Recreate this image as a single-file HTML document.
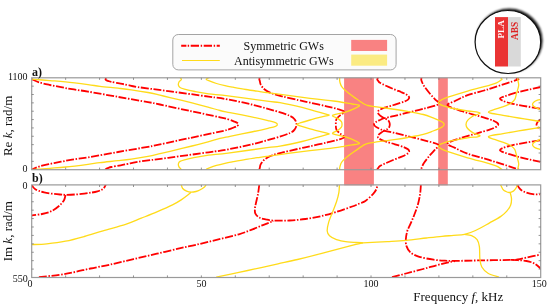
<!DOCTYPE html>
<html><head><meta charset="utf-8"><title>Dispersion curves</title>
<style>html,body{margin:0;padding:0;background:#fff}body{width:550px;height:308px;position:relative;overflow:hidden}</style></head>
<body>
<svg width="550" height="308" viewBox="0 0 550 308" style="position:absolute;left:0;top:0">
<defs><clipPath id="ca"><rect x="31.70" y="77.80" width="509.00" height="91.90"/></clipPath><clipPath id="cb"><rect x="31.70" y="184.90" width="509.00" height="92.60"/></clipPath>
<filter id="bl" x="-10%" y="-10%" width="120%" height="120%"><feGaussianBlur stdDeviation="0.9"/></filter></defs>
<rect x="344.1" y="77.80" width="29.8" height="107.50" fill="#f98282"/>
<rect x="438.2" y="77.80" width="9.6" height="107.50" fill="#f98282"/>
<g clip-path="url(#ca)" fill="none">
<g stroke="#ff0000" stroke-width="1.8" stroke-dasharray="8 1.6 1.5 1.6"><path d="M31.70 79.20 C32.92 79.72 35.95 81.33 39.00 82.30 C42.05 83.27 46.32 84.18 50.00 85.00 C53.68 85.82 57.42 86.50 61.10 87.20 C64.78 87.90 67.62 88.47 72.10 89.20 C76.58 89.93 80.35 90.32 88.00 91.60 C95.65 92.88 108.00 95.15 118.00 96.90 C128.00 98.65 141.00 100.83 148.00 102.10 C155.00 103.37 153.03 103.03 160.00 104.50 C166.97 105.97 179.80 108.77 189.80 110.90 C199.80 113.03 213.52 115.87 220.00 117.30 C226.48 118.73 226.28 118.77 228.70 119.50 C231.12 120.23 233.05 121.10 234.50 121.70 C235.95 122.30 236.77 122.64 237.40 123.10 C238.03 123.56 238.30 124.00 238.30 124.45 C238.30 124.90 238.03 125.34 237.40 125.80 C236.77 126.26 235.95 126.60 234.50 127.20 C233.05 127.80 231.12 128.67 228.70 129.40 C226.28 130.13 226.48 130.17 220.00 131.60 C213.52 133.03 199.80 135.87 189.80 138.00 C179.80 140.13 166.97 142.93 160.00 144.40 C153.03 145.87 155.00 145.53 148.00 146.80 C141.00 148.07 128.00 150.25 118.00 152.00 C108.00 153.75 95.65 156.02 88.00 157.30 C80.35 158.58 76.58 158.97 72.10 159.70 C67.62 160.43 64.78 161.00 61.10 161.70 C57.42 162.40 53.68 163.08 50.00 163.90 C46.32 164.72 42.05 165.63 39.00 166.60 C35.95 167.57 32.92 169.18 31.70 169.70"/><path d="M106.30 78.20 C106.17 78.37 105.50 78.87 105.50 79.20 C105.50 79.53 105.80 79.88 106.30 80.20 C106.80 80.52 107.67 80.82 108.50 81.10 C109.33 81.38 109.27 81.48 111.30 81.90 C113.33 82.32 117.92 83.07 120.70 83.60 C123.48 84.13 125.12 84.52 128.00 85.10 C130.88 85.68 131.28 86.10 138.00 87.10 C144.72 88.10 156.53 89.52 168.30 91.10 C180.07 92.68 198.65 95.20 208.60 96.60 C218.55 98.00 220.85 98.18 228.00 99.50 C235.15 100.82 243.68 102.62 251.50 104.50 C259.32 106.38 268.48 108.90 274.90 110.80 C281.32 112.70 286.68 114.43 290.00 115.90 C293.32 117.37 293.72 118.17 294.80 119.60 C295.88 121.02 296.50 122.83 296.50 124.45 C296.50 126.07 295.88 127.88 294.80 129.30 C293.72 130.73 293.32 131.53 290.00 133.00 C286.68 134.47 281.32 136.20 274.90 138.10 C268.48 140.00 259.32 142.52 251.50 144.40 C243.68 146.28 235.15 148.08 228.00 149.40 C220.85 150.72 218.55 150.90 208.60 152.30 C198.65 153.70 180.07 156.22 168.30 157.80 C156.53 159.38 144.72 160.80 138.00 161.80 C131.28 162.80 130.88 163.22 128.00 163.80 C125.12 164.38 123.48 164.77 120.70 165.30 C117.92 165.83 113.33 166.58 111.30 167.00 C109.27 167.42 109.33 167.52 108.50 167.80 C107.67 168.08 106.80 168.38 106.30 168.70 C105.80 169.02 105.50 169.37 105.50 169.70 C105.50 170.03 106.17 170.53 106.30 170.70"/><path d="M259.80 77.40 C259.72 77.70 259.30 78.60 259.30 79.20 C259.30 79.80 259.55 80.07 259.80 81.00 C260.05 81.93 259.98 83.38 260.80 84.80 C261.62 86.22 262.87 88.07 264.70 89.50 C266.53 90.93 268.80 92.23 271.80 93.40 C274.80 94.57 278.27 95.38 282.70 96.50 C287.13 97.62 293.85 99.08 298.40 100.10 C302.95 101.12 305.32 101.57 310.00 102.60 C314.68 103.63 321.90 105.23 326.50 106.30 C331.10 107.37 334.65 108.12 337.60 109.00 C340.55 109.88 343.83 110.50 344.20 111.60 C344.57 112.70 341.08 114.37 339.80 115.60 C338.52 116.83 337.17 117.53 336.50 119.00 C335.83 120.47 335.80 122.63 335.80 124.45 C335.80 126.27 335.83 128.43 336.50 129.90 C337.17 131.38 338.52 132.07 339.80 133.30 C341.08 134.53 344.57 136.20 344.20 137.30 C343.83 138.40 340.55 139.02 337.60 139.90 C334.65 140.78 331.10 141.53 326.50 142.60 C321.90 143.67 314.68 145.27 310.00 146.30 C305.32 147.33 302.95 147.78 298.40 148.80 C293.85 149.82 287.13 151.28 282.70 152.40 C278.27 153.52 274.80 154.33 271.80 155.50 C268.80 156.67 266.53 157.97 264.70 159.40 C262.87 160.83 261.62 162.68 260.80 164.10 C259.98 165.52 260.05 166.97 259.80 167.90 C259.55 168.83 259.30 169.10 259.30 169.70 C259.30 170.30 259.72 171.20 259.80 171.50"/><path d="M378.30 77.40 C378.12 77.70 377.20 78.60 377.20 79.20 C377.20 79.80 377.83 80.40 378.30 81.00 C378.77 81.60 378.72 82.00 380.00 82.80 C381.28 83.60 383.62 84.70 386.00 85.80 C388.38 86.90 391.80 88.37 394.30 89.40 C396.80 90.43 399.15 91.25 401.00 92.00 C402.85 92.75 404.20 93.27 405.40 93.90 C406.60 94.53 407.57 95.17 408.20 95.80 C408.83 96.43 409.23 97.07 409.20 97.70 C409.17 98.33 408.82 98.95 408.00 99.60 C407.18 100.25 406.47 100.77 404.30 101.60 C402.13 102.43 397.95 103.68 395.00 104.60 C392.05 105.52 388.68 106.45 386.60 107.10 C384.52 107.75 383.80 107.93 382.50 108.50 C381.20 109.07 379.57 109.87 378.80 110.50 C378.03 111.13 377.87 111.63 377.90 112.30 C377.93 112.97 378.42 113.80 379.00 114.50 C379.58 115.20 380.53 115.88 381.40 116.50 C382.27 117.12 383.18 117.65 384.20 118.20 C385.22 118.75 386.67 119.20 387.50 119.80 C388.33 120.40 388.82 121.02 389.20 121.80 C389.58 122.58 389.80 123.57 389.80 124.45 C389.80 125.33 389.58 126.33 389.20 127.10 C388.82 127.88 388.33 128.50 387.50 129.10 C386.67 129.70 385.22 130.15 384.20 130.70 C383.18 131.25 382.27 131.78 381.40 132.40 C380.53 133.02 379.58 133.70 379.00 134.40 C378.42 135.10 377.93 135.93 377.90 136.60 C377.87 137.27 378.03 137.77 378.80 138.40 C379.57 139.03 381.20 139.83 382.50 140.40 C383.80 140.97 384.52 141.15 386.60 141.80 C388.68 142.45 392.05 143.38 395.00 144.30 C397.95 145.22 402.13 146.47 404.30 147.30 C406.47 148.13 407.18 148.65 408.00 149.30 C408.82 149.95 409.17 150.57 409.20 151.20 C409.23 151.83 408.83 152.47 408.20 153.10 C407.57 153.73 406.60 154.37 405.40 155.00 C404.20 155.63 402.85 156.15 401.00 156.90 C399.15 157.65 396.80 158.47 394.30 159.50 C391.80 160.53 388.38 162.00 386.00 163.10 C383.62 164.20 381.28 165.30 380.00 166.10 C378.72 166.90 378.77 167.30 378.30 167.90 C377.83 168.50 377.20 169.10 377.20 169.70 C377.20 170.30 378.12 171.20 378.30 171.50"/><path d="M422.00 76.40 C421.87 76.87 421.20 78.27 421.20 79.20 C421.20 80.13 421.52 80.85 422.00 82.00 C422.48 83.15 422.83 84.22 424.10 86.10 C425.37 87.98 427.77 91.08 429.60 93.30 C431.43 95.52 433.62 97.58 435.10 99.40 C436.58 101.22 440.47 102.63 438.50 104.20 C436.53 105.77 428.45 107.38 423.30 108.80 C418.15 110.22 412.55 111.47 407.60 112.70 C402.65 113.93 397.50 115.28 393.60 116.20 C389.70 117.12 386.47 117.57 384.20 118.20 C381.93 118.83 381.37 119.37 380.00 120.00 C378.63 120.63 377.00 121.26 376.00 122.00 C375.00 122.74 374.00 123.63 374.00 124.45 C374.00 125.27 375.00 126.16 376.00 126.90 C377.00 127.64 378.63 128.27 380.00 128.90 C381.37 129.53 381.93 130.07 384.20 130.70 C386.47 131.33 389.70 131.78 393.60 132.70 C397.50 133.62 402.65 134.97 407.60 136.20 C412.55 137.43 418.15 138.68 423.30 140.10 C428.45 141.52 436.53 143.13 438.50 144.70 C440.47 146.27 436.58 147.68 435.10 149.50 C433.62 151.32 431.43 153.38 429.60 155.60 C427.77 157.82 425.37 160.92 424.10 162.80 C422.83 164.68 422.48 165.75 422.00 166.90 C421.52 168.05 421.20 168.77 421.20 169.70 C421.20 170.63 421.87 172.03 422.00 172.50"/><path d="M516.00 78.20 C516.43 78.37 518.60 78.87 518.60 79.20 C518.60 79.53 518.02 79.50 516.00 80.20 C513.98 80.90 510.65 82.05 506.50 83.40 C502.35 84.75 494.83 87.12 491.10 88.30 C487.37 89.48 488.02 89.35 484.10 90.50 C480.18 91.65 472.45 93.45 467.60 95.20 C462.75 96.95 458.32 99.28 455.00 101.00 C451.68 102.72 446.53 103.80 447.70 105.50 C448.87 107.20 457.22 109.55 462.00 111.20 C466.78 112.85 471.80 114.05 476.40 115.40 C481.00 116.75 486.50 118.28 489.60 119.30 C492.70 120.32 493.70 120.88 495.00 121.50 C496.30 122.12 496.85 122.51 497.40 123.00 C497.95 123.49 498.30 123.97 498.30 124.45 C498.30 124.93 497.95 125.41 497.40 125.90 C496.85 126.39 496.30 126.78 495.00 127.40 C493.70 128.02 492.70 128.58 489.60 129.60 C486.50 130.62 481.00 132.15 476.40 133.50 C471.80 134.85 466.78 136.05 462.00 137.70 C457.22 139.35 448.87 141.70 447.70 143.40 C446.53 145.10 451.68 146.18 455.00 147.90 C458.32 149.62 462.75 151.95 467.60 153.70 C472.45 155.45 480.18 157.25 484.10 158.40 C488.02 159.55 487.37 159.42 491.10 160.60 C494.83 161.78 502.35 164.15 506.50 165.50 C510.65 166.85 513.98 168.00 516.00 168.70 C518.02 169.40 518.60 169.37 518.60 169.70 C518.60 170.03 516.43 170.53 516.00 170.70"/><path d="M540.70 87.00 C538.92 87.38 533.85 88.43 530.00 89.30 C526.15 90.17 521.27 91.22 517.60 92.20 C513.93 93.18 510.52 94.40 508.00 95.20 C505.48 96.00 503.85 96.43 502.50 97.00 C501.15 97.57 499.90 97.98 499.90 98.60 C499.90 99.22 500.65 99.90 502.50 100.70 C504.35 101.50 507.57 102.55 511.00 103.40 C514.43 104.25 518.15 104.92 523.10 105.80 C528.05 106.68 537.77 108.22 540.70 108.70"/><path d="M540.70 161.90 C538.92 161.52 533.85 160.47 530.00 159.60 C526.15 158.73 521.27 157.68 517.60 156.70 C513.93 155.72 510.52 154.50 508.00 153.70 C505.48 152.90 503.85 152.47 502.50 151.90 C501.15 151.33 499.90 150.92 499.90 150.30 C499.90 149.68 500.65 149.00 502.50 148.20 C504.35 147.40 507.57 146.35 511.00 145.50 C514.43 144.65 518.15 143.98 523.10 143.10 C528.05 142.22 537.77 140.68 540.70 140.20"/><path d="M540.70 119.20 C540.25 119.58 538.70 120.62 538.00 121.50 C537.30 122.38 536.50 123.47 536.50 124.45 C536.50 125.43 537.30 126.53 538.00 127.40 C538.70 128.28 540.25 129.32 540.70 129.70"/></g>
<g stroke="#ffdb1a" stroke-width="1.3"><path d="M31.70 79.20 C34.75 79.43 44.37 80.15 50.00 80.60 C55.63 81.05 59.17 81.23 65.50 81.90 C71.83 82.57 82.25 83.87 88.00 84.60 C93.75 85.33 95.00 85.70 100.00 86.30 C105.00 86.90 112.78 87.62 118.00 88.20 C123.22 88.78 126.30 89.08 131.30 89.80 C136.30 90.52 143.22 91.60 148.00 92.50 C152.78 93.40 156.33 94.35 160.00 95.20 C163.67 96.05 164.67 96.32 170.00 97.60 C175.33 98.88 185.67 101.32 192.00 102.90 C198.33 104.48 203.33 105.83 208.00 107.10 C212.67 108.37 216.33 109.58 220.00 110.50 C223.67 111.42 224.75 111.53 230.00 112.60 C235.25 113.67 245.17 115.57 251.50 116.90 C257.83 118.23 264.00 119.65 268.00 120.60 C272.00 121.55 273.90 121.96 275.50 122.60 C277.10 123.24 277.25 124.14 277.60 124.45"/><path d="M31.70 169.70 C34.75 169.47 44.37 168.75 50.00 168.30 C55.63 167.85 59.17 167.67 65.50 167.00 C71.83 166.33 82.25 165.03 88.00 164.30 C93.75 163.57 95.00 163.20 100.00 162.60 C105.00 162.00 112.78 161.28 118.00 160.70 C123.22 160.12 126.30 159.82 131.30 159.10 C136.30 158.38 143.22 157.30 148.00 156.40 C152.78 155.50 156.33 154.55 160.00 153.70 C163.67 152.85 164.67 152.58 170.00 151.30 C175.33 150.02 185.67 147.58 192.00 146.00 C198.33 144.42 203.33 143.07 208.00 141.80 C212.67 140.53 216.33 139.32 220.00 138.40 C223.67 137.48 224.75 137.37 230.00 136.30 C235.25 135.23 245.17 133.33 251.50 132.00 C257.83 130.67 264.00 129.25 268.00 128.30 C272.00 127.35 273.90 126.94 275.50 126.30 C277.10 125.66 277.25 124.76 277.60 124.45"/><path d="M179.00 76.40 C179.40 76.87 181.40 78.27 181.40 79.20 C181.40 80.13 179.50 81.02 179.00 82.00 C178.50 82.98 178.23 84.18 178.40 85.10 C178.57 86.02 179.00 86.83 180.00 87.50 C181.00 88.17 181.90 88.43 184.40 89.10 C186.90 89.77 190.97 90.72 195.00 91.50 C199.03 92.28 203.10 93.08 208.60 93.80 C214.10 94.52 218.25 94.57 228.00 95.80 C237.75 97.03 258.43 100.05 267.10 101.20 C275.77 102.35 274.18 101.67 280.00 102.70 C285.82 103.73 296.00 105.97 302.00 107.40 C308.00 108.83 311.43 110.02 316.00 111.30 C320.57 112.58 327.17 114.47 329.40 115.10"/><path d="M179.00 172.50 C179.40 172.03 181.40 170.63 181.40 169.70 C181.40 168.77 179.50 167.88 179.00 166.90 C178.50 165.92 178.23 164.72 178.40 163.80 C178.57 162.88 179.00 162.07 180.00 161.40 C181.00 160.73 181.90 160.47 184.40 159.80 C186.90 159.13 190.97 158.18 195.00 157.40 C199.03 156.62 203.10 155.82 208.60 155.10 C214.10 154.38 218.25 154.33 228.00 153.10 C237.75 151.87 258.43 148.85 267.10 147.70 C275.77 146.55 274.18 147.23 280.00 146.20 C285.82 145.17 296.00 142.93 302.00 141.50 C308.00 140.07 311.43 138.88 316.00 137.60 C320.57 136.32 327.17 134.43 329.40 133.80"/><path d="M329.40 115.10 C326.17 115.92 314.90 118.68 310.00 120.00 C305.10 121.32 302.25 122.26 300.00 123.00 C297.75 123.74 297.08 124.21 296.50 124.45"/><path d="M329.40 133.80 C326.17 132.98 314.90 130.22 310.00 128.90 C305.10 127.58 302.25 126.64 300.00 125.90 C297.75 125.16 297.08 124.69 296.50 124.45"/><path d="M210.00 77.20 C209.35 77.53 206.10 78.53 206.10 79.20 C206.10 79.87 208.27 80.48 210.00 81.20 C211.73 81.92 214.00 82.77 216.50 83.50 C219.00 84.23 222.23 84.98 225.00 85.60 C227.77 86.22 229.60 86.55 233.10 87.20 C236.60 87.85 241.52 88.77 246.00 89.50 C250.48 90.23 256.48 91.08 260.00 91.60 C263.52 92.12 258.77 91.48 267.10 92.60 C275.43 93.72 298.93 96.90 310.00 98.30 C321.07 99.70 327.83 100.28 333.50 101.00 C339.17 101.72 340.92 102.10 344.00 102.60 C347.08 103.10 349.75 103.63 352.00 104.00 C354.25 104.37 356.23 104.53 357.50 104.80 C358.77 105.07 359.68 105.18 359.60 105.60 C359.52 106.02 359.20 106.27 357.00 107.30 C354.80 108.33 350.00 110.63 346.40 111.80 C342.80 112.97 337.78 113.70 335.40 114.30 C333.02 114.90 332.65 115.22 332.10 115.40"/><path d="M210.00 171.70 C209.35 171.37 206.10 170.37 206.10 169.70 C206.10 169.03 208.27 168.42 210.00 167.70 C211.73 166.98 214.00 166.13 216.50 165.40 C219.00 164.67 222.23 163.92 225.00 163.30 C227.77 162.68 229.60 162.35 233.10 161.70 C236.60 161.05 241.52 160.13 246.00 159.40 C250.48 158.67 256.48 157.82 260.00 157.30 C263.52 156.78 258.77 157.42 267.10 156.30 C275.43 155.18 298.93 152.00 310.00 150.60 C321.07 149.20 327.83 148.62 333.50 147.90 C339.17 147.18 340.92 146.80 344.00 146.30 C347.08 145.80 349.75 145.27 352.00 144.90 C354.25 144.53 356.23 144.37 357.50 144.10 C358.77 143.83 359.68 143.72 359.60 143.30 C359.52 142.88 359.20 142.63 357.00 141.60 C354.80 140.57 350.00 138.27 346.40 137.10 C342.80 135.93 337.78 135.20 335.40 134.60 C333.02 134.00 332.65 133.68 332.10 133.50"/><path d="M332.10 115.40 C332.42 115.63 333.08 116.30 334.00 116.80 C334.92 117.30 336.37 117.58 337.60 118.40 C338.83 119.22 340.67 120.69 341.40 121.70 C342.13 122.71 342.00 123.53 342.00 124.45 C342.00 125.37 342.13 126.19 341.40 127.20 C340.67 128.21 338.83 129.68 337.60 130.50 C336.37 131.32 334.92 131.60 334.00 132.10 C333.08 132.60 332.42 133.27 332.10 133.50"/><path d="M340.00 75.90 C339.93 76.45 339.60 78.10 339.60 79.20 C339.60 80.30 339.58 81.17 340.00 82.50 C340.42 83.83 340.65 85.40 342.10 87.20 C343.55 89.00 346.32 91.37 348.70 93.30 C351.08 95.23 353.83 97.02 356.40 98.80 C358.97 100.58 362.17 102.88 364.10 104.00 C366.03 105.12 366.33 105.07 368.00 105.50 C369.67 105.93 371.27 106.18 374.10 106.60 C376.93 107.02 381.35 107.52 385.00 108.00 C388.65 108.48 392.23 108.93 396.00 109.50 C399.77 110.07 403.05 110.57 407.60 111.40 C412.15 112.23 419.05 113.42 423.30 114.50 C427.55 115.58 430.48 116.93 433.10 117.90 C435.72 118.87 437.53 119.65 439.00 120.30 C440.47 120.95 441.13 121.32 441.90 121.80 C442.67 122.28 443.23 122.76 443.60 123.20 C443.97 123.64 444.10 124.03 444.10 124.45 C444.10 124.87 443.97 125.26 443.60 125.70 C443.23 126.14 442.67 126.62 441.90 127.10 C441.13 127.58 440.47 127.95 439.00 128.60 C437.53 129.25 435.72 130.03 433.10 131.00 C430.48 131.97 427.55 133.32 423.30 134.40 C419.05 135.48 412.15 136.67 407.60 137.50 C403.05 138.33 399.77 138.83 396.00 139.40 C392.23 139.97 388.65 140.42 385.00 140.90 C381.35 141.38 376.93 141.88 374.10 142.30 C371.27 142.72 369.67 142.97 368.00 143.40 C366.33 143.83 366.03 143.78 364.10 144.90 C362.17 146.02 358.97 148.32 356.40 150.10 C353.83 151.88 351.08 153.67 348.70 155.60 C346.32 157.53 343.55 159.90 342.10 161.70 C340.65 163.50 340.42 165.07 340.00 166.40 C339.58 167.73 339.60 168.60 339.60 169.70 C339.60 170.80 339.93 172.45 340.00 173.00"/><path d="M500.60 78.00 C500.83 78.20 502.00 78.80 502.00 79.20 C502.00 79.60 501.50 79.80 500.60 80.40 C499.70 81.00 498.37 82.03 496.60 82.80 C494.83 83.57 492.08 84.35 490.00 85.00 C487.92 85.65 487.83 85.68 484.10 86.70 C480.37 87.72 473.62 89.35 467.60 91.10 C461.58 92.85 452.27 95.78 448.00 97.20 C443.73 98.62 443.57 98.75 442.00 99.60 C440.43 100.45 438.93 101.50 438.60 102.30 C438.27 103.10 439.17 103.80 440.00 104.40 C440.83 105.00 441.77 105.30 443.60 105.90 C445.43 106.50 447.00 107.15 451.00 108.00 C455.00 108.85 463.18 110.32 467.60 111.00 C472.02 111.68 475.38 111.73 477.50 112.10 C479.62 112.47 479.83 113.02 480.30 113.20"/><path d="M500.60 170.90 C500.83 170.70 502.00 170.10 502.00 169.70 C502.00 169.30 501.50 169.10 500.60 168.50 C499.70 167.90 498.37 166.87 496.60 166.10 C494.83 165.33 492.08 164.55 490.00 163.90 C487.92 163.25 487.83 163.22 484.10 162.20 C480.37 161.18 473.62 159.55 467.60 157.80 C461.58 156.05 452.27 153.12 448.00 151.70 C443.73 150.28 443.57 150.15 442.00 149.30 C440.43 148.45 438.93 147.40 438.60 146.60 C438.27 145.80 439.17 145.10 440.00 144.50 C440.83 143.90 441.77 143.60 443.60 143.00 C445.43 142.40 447.00 141.75 451.00 140.90 C455.00 140.05 463.18 138.58 467.60 137.90 C472.02 137.22 475.38 137.17 477.50 136.80 C479.62 136.43 479.83 135.88 480.30 135.70"/><path d="M480.30 113.20 C479.75 113.43 478.20 114.13 477.00 114.60 C475.80 115.07 474.67 115.03 473.10 116.00 C471.53 116.97 468.78 118.99 467.60 120.40 C466.42 121.81 466.00 123.10 466.00 124.45 C466.00 125.80 466.42 127.09 467.60 128.50 C468.78 129.91 471.53 131.93 473.10 132.90 C474.67 133.87 475.80 133.83 477.00 134.30 C478.20 134.77 479.75 135.47 480.30 135.70"/><path d="M518.70 73.40 C518.55 74.37 517.80 77.27 517.80 79.20 C517.80 81.13 518.73 83.20 518.70 85.00 C518.67 86.80 517.97 88.60 517.60 90.00 C517.23 91.40 516.97 91.83 516.50 93.40 C516.03 94.97 515.72 97.77 514.80 99.40 C513.88 101.03 512.47 102.17 511.00 103.20 C509.53 104.23 507.67 104.92 506.00 105.60 C504.33 106.28 502.78 106.70 501.00 107.30 C499.22 107.90 497.13 108.58 495.30 109.20 C493.47 109.82 491.12 110.47 490.00 111.00 C488.88 111.53 488.27 111.98 488.60 112.40 C488.93 112.82 489.58 113.02 492.00 113.50 C494.42 113.98 498.65 114.55 503.10 115.30 C507.55 116.05 513.48 117.13 518.70 118.00 C523.92 118.87 530.73 119.90 534.40 120.50 C538.07 121.10 539.65 121.42 540.70 121.60"/><path d="M518.70 175.50 C518.55 174.53 517.80 171.63 517.80 169.70 C517.80 167.77 518.73 165.70 518.70 163.90 C518.67 162.10 517.97 160.30 517.60 158.90 C517.23 157.50 516.97 157.07 516.50 155.50 C516.03 153.93 515.72 151.13 514.80 149.50 C513.88 147.87 512.47 146.73 511.00 145.70 C509.53 144.67 507.67 143.98 506.00 143.30 C504.33 142.62 502.78 142.20 501.00 141.60 C499.22 141.00 497.13 140.32 495.30 139.70 C493.47 139.08 491.12 138.43 490.00 137.90 C488.88 137.37 488.27 136.92 488.60 136.50 C488.93 136.08 489.58 135.88 492.00 135.40 C494.42 134.92 498.65 134.35 503.10 133.60 C507.55 132.85 513.48 131.77 518.70 130.90 C523.92 130.03 530.73 129.00 534.40 128.40 C538.07 127.80 539.65 127.48 540.70 127.30"/><path d="M540.70 99.40 C540.17 99.53 538.62 99.77 537.50 100.20 C536.38 100.63 534.83 101.33 534.00 102.00 C533.17 102.67 532.50 103.45 532.50 104.20 C532.50 104.95 533.17 105.82 534.00 106.50 C534.83 107.18 536.38 107.75 537.50 108.30 C538.62 108.85 540.17 109.55 540.70 109.80"/><path d="M540.70 149.50 C540.17 149.37 538.62 149.13 537.50 148.70 C536.38 148.27 534.83 147.57 534.00 146.90 C533.17 146.23 532.50 145.45 532.50 144.70 C532.50 143.95 533.17 143.08 534.00 142.40 C534.83 141.72 536.38 141.15 537.50 140.60 C538.62 140.05 540.17 139.35 540.70 139.10"/></g>
</g>
<g clip-path="url(#cb)" fill="none">
<g stroke="#ff0000" stroke-width="1.8" stroke-dasharray="8 1.6 1.5 1.6"><path d="M31.70 184.60 C31.92 185.00 32.40 186.23 33.00 187.00 C33.60 187.77 34.30 188.55 35.30 189.20 C36.30 189.85 37.53 190.37 39.00 190.90 C40.47 191.43 41.93 191.93 44.10 192.40 C46.27 192.87 49.35 193.35 52.00 193.70 C54.65 194.05 57.75 194.32 60.00 194.50 C62.25 194.68 63.00 194.80 65.50 194.80 C68.00 194.80 71.87 194.70 75.00 194.50 C78.13 194.30 81.47 193.93 84.30 193.60 C87.13 193.27 89.80 192.88 92.00 192.50 C94.20 192.12 95.92 191.75 97.50 191.30 C99.08 190.85 100.45 190.32 101.50 189.80 C102.55 189.28 103.08 189.07 103.80 188.20 C104.52 187.33 105.47 185.20 105.80 184.60"/><path d="M65.50 195.00 C65.25 195.87 65.03 198.42 64.00 200.20 C62.97 201.98 61.38 203.88 59.30 205.70 C57.22 207.52 54.37 209.72 51.50 211.10 C48.63 212.48 45.40 213.28 42.10 214.00 C38.80 214.72 33.43 215.17 31.70 215.40"/><path d="M38.90 277.20 C42.30 276.80 53.30 275.67 59.30 274.80 C65.30 273.93 69.70 273.05 74.90 272.00 C80.10 270.95 84.65 269.73 90.50 268.50 C96.35 267.27 102.83 266.17 110.00 264.60 C117.17 263.03 125.68 260.92 133.50 259.10 C141.32 257.28 149.08 255.52 156.90 253.70 C164.72 251.88 173.88 249.68 180.40 248.20 C186.92 246.72 190.15 246.15 196.00 244.80 C201.85 243.45 208.35 241.85 215.50 240.10 C222.65 238.35 232.73 236.10 238.90 234.30 C245.07 232.50 248.38 230.88 252.50 229.30 C256.62 227.72 260.10 226.18 263.60 224.80 C267.10 223.42 271.85 221.63 273.50 221.00"/><path d="M259.30 184.60 C259.08 186.15 258.57 190.78 258.00 193.90 C257.43 197.02 256.42 200.78 255.90 203.30 C255.38 205.82 254.98 207.28 254.90 209.00 C254.82 210.72 254.68 212.18 255.40 213.60 C256.12 215.02 257.47 216.53 259.20 217.50 C260.93 218.47 263.42 218.88 265.80 219.40 C268.18 219.92 269.53 220.42 273.50 220.60 C277.47 220.78 284.30 220.77 289.60 220.50 C294.90 220.23 300.08 219.72 305.30 219.00 C310.52 218.28 315.70 217.38 320.90 216.20 C326.10 215.02 331.28 213.52 336.50 211.90 C341.72 210.28 348.28 207.93 352.20 206.50 C356.12 205.07 357.80 204.22 360.00 203.30 C362.20 202.38 363.20 202.57 365.40 201.00 C367.60 199.43 371.38 195.85 373.20 193.90 C375.02 191.95 375.57 190.85 376.30 189.30 C377.03 187.75 377.38 185.38 377.60 184.60"/><path d="M420.90 184.60 C420.77 186.15 420.62 190.52 420.10 193.90 C419.58 197.28 418.83 201.25 417.80 204.90 C416.77 208.55 415.22 212.42 413.90 215.80 C412.58 219.18 411.00 222.67 409.90 225.20 C408.80 227.73 407.97 228.73 407.30 231.00 C406.63 233.27 406.05 236.32 405.90 238.80 C405.75 241.28 405.65 243.63 406.40 245.90 C407.15 248.17 408.25 250.58 410.40 252.40 C412.55 254.22 415.43 255.58 419.30 256.80 C423.17 258.02 429.32 259.05 433.60 259.70 C437.88 260.35 441.43 260.50 445.00 260.70 C448.57 260.90 449.17 260.95 455.00 260.90 C460.83 260.85 470.68 260.57 480.00 260.40 C489.32 260.23 504.62 260.05 510.90 259.90 C517.18 259.75 515.10 259.88 517.70 259.50 C520.30 259.12 522.67 258.43 526.50 257.60 C530.33 256.77 538.33 255.02 540.70 254.50"/><path d="M392.00 277.20 C394.33 276.58 400.80 274.87 406.00 273.50 C411.20 272.13 418.05 270.38 423.20 269.00 C428.35 267.62 432.87 266.27 436.90 265.20 C440.93 264.13 444.38 263.30 447.40 262.60 C450.42 261.90 453.73 261.27 455.00 261.00"/><path d="M510.90 259.90 C512.03 259.95 515.10 260.02 517.70 260.20 C520.30 260.38 523.72 260.45 526.50 261.00 C529.28 261.55 532.03 262.25 534.40 263.50 C536.77 264.75 539.65 267.67 540.70 268.50"/><path d="M517.20 184.60 C517.72 185.38 518.75 187.95 520.30 189.30 C521.85 190.65 524.15 191.87 526.50 192.70 C528.85 193.53 532.03 194.03 534.40 194.30 C536.77 194.57 539.65 194.30 540.70 194.30"/></g>
<g stroke="#ffdb1a" stroke-width="1.3"><path d="M31.70 244.60 C34.22 244.47 41.17 244.37 46.80 243.80 C52.43 243.23 59.25 242.42 65.50 241.20 C71.75 239.98 78.05 238.23 84.30 236.50 C90.55 234.77 96.12 232.82 103.00 230.80 C109.88 228.78 119.22 226.50 125.60 224.40 C131.98 222.30 136.08 220.28 141.30 218.20 C146.52 216.12 151.70 214.12 156.90 211.90 C162.10 209.68 168.33 206.98 172.50 204.90 C176.67 202.82 179.28 201.10 181.90 199.40 C184.52 197.70 186.68 195.88 188.20 194.70 C189.72 193.52 190.53 192.70 191.00 192.30"/><path d="M181.20 184.60 C181.45 185.25 181.80 187.42 182.70 188.50 C183.60 189.58 185.22 190.48 186.60 191.10 C187.98 191.72 189.43 192.13 191.00 192.20 C192.57 192.27 194.53 191.87 196.00 191.50 C197.47 191.13 198.38 190.77 199.80 190.00 C201.22 189.23 203.45 187.80 204.50 186.90 C205.55 186.00 205.83 184.98 206.10 184.60"/><path d="M216.20 277.20 C219.98 276.40 231.20 274.05 238.90 272.40 C246.60 270.75 255.88 268.73 262.40 267.30 C268.92 265.87 272.15 265.10 278.00 263.80 C283.85 262.50 290.35 261.18 297.50 259.50 C304.65 257.82 313.08 255.72 320.90 253.70 C328.72 251.68 338.55 248.95 344.40 247.40 C350.25 245.85 352.90 245.17 356.00 244.40 C359.10 243.63 361.83 243.07 363.00 242.80"/><path d="M339.40 184.60 C339.32 185.90 339.38 189.53 338.90 192.40 C338.42 195.27 337.55 198.55 336.50 201.80 C335.45 205.05 333.90 208.52 332.60 211.90 C331.30 215.28 329.60 218.92 328.70 222.10 C327.80 225.28 327.07 228.73 327.20 231.00 C327.33 233.27 327.95 234.27 329.50 235.70 C331.05 237.13 333.50 238.57 336.50 239.60 C339.50 240.63 344.25 241.42 347.50 241.90 C350.75 242.38 353.42 242.35 356.00 242.50 C358.58 242.65 361.83 242.75 363.00 242.80"/><path d="M363.00 242.80 C367.05 242.60 380.13 242.00 387.30 241.60 C394.47 241.20 399.48 241.00 406.00 240.40 C412.52 239.80 420.40 238.68 426.40 238.00 C432.40 237.32 437.47 236.73 442.00 236.30 C446.53 235.87 449.83 235.72 453.60 235.40 C457.37 235.08 460.95 235.22 464.60 234.40 C468.25 233.58 471.33 232.42 475.50 230.50 C479.67 228.58 485.43 225.22 489.60 222.90 C493.77 220.58 497.63 218.57 500.50 216.60 C503.37 214.63 505.10 213.05 506.80 211.10 C508.50 209.15 509.92 206.98 510.70 204.90 C511.48 202.82 511.58 200.63 511.50 198.60 C511.42 196.57 510.42 193.68 510.20 192.70"/><path d="M500.50 184.60 C500.90 185.38 501.98 188.15 502.90 189.30 C503.82 190.45 504.98 190.97 506.00 191.50 C507.02 192.03 508.08 192.42 509.00 192.50 C509.92 192.58 510.70 192.28 511.50 192.00 C512.30 191.72 513.02 191.52 513.80 190.80 C514.58 190.08 515.62 188.73 516.20 187.70 C516.78 186.67 517.12 185.12 517.30 184.60"/><path d="M464.60 234.40 C465.77 234.62 469.52 234.83 471.60 235.70 C473.68 236.57 475.80 237.78 477.10 239.60 C478.40 241.42 478.93 243.35 479.40 246.60 C479.87 249.85 479.50 255.70 479.90 259.10 C480.30 262.50 480.45 264.65 481.80 267.00 C483.15 269.35 485.13 271.50 488.00 273.20 C490.87 274.90 497.17 276.53 499.00 277.20"/></g>
</g>
<rect x="31.70" y="77.80" width="509.00" height="91.90" fill="none" stroke="#9a9a9a" stroke-width="1.2"/><path d="M65.63 77.80 v2.1 M65.63 169.70 v-2.1 M99.57 77.80 v2.1 M99.57 169.70 v-2.1 M133.50 77.80 v2.1 M133.50 169.70 v-2.1 M167.43 77.80 v2.1 M167.43 169.70 v-2.1 M201.37 77.80 v2.1 M201.37 169.70 v-2.1 M235.30 77.80 v2.1 M235.30 169.70 v-2.1 M269.23 77.80 v2.1 M269.23 169.70 v-2.1 M303.17 77.80 v2.1 M303.17 169.70 v-2.1 M337.10 77.80 v2.1 M337.10 169.70 v-2.1 M371.03 77.80 v2.1 M371.03 169.70 v-2.1 M404.97 77.80 v2.1 M404.97 169.70 v-2.1 M438.90 77.80 v2.1 M438.90 169.70 v-2.1 M472.83 77.80 v2.1 M472.83 169.70 v-2.1 M506.77 77.80 v2.1 M506.77 169.70 v-2.1 M31.70 86.15 h2.1 M540.70 86.15 h-2.1 M31.70 94.51 h2.1 M540.70 94.51 h-2.1 M31.70 102.86 h2.1 M540.70 102.86 h-2.1 M31.70 111.22 h2.1 M540.70 111.22 h-2.1 M31.70 119.57 h2.1 M540.70 119.57 h-2.1 M31.70 127.93 h2.1 M540.70 127.93 h-2.1 M31.70 136.28 h2.1 M540.70 136.28 h-2.1 M31.70 144.64 h2.1 M540.70 144.64 h-2.1 M31.70 152.99 h2.1 M540.70 152.99 h-2.1 M31.70 161.35 h2.1 M540.70 161.35 h-2.1 " stroke="#7a7a7a" stroke-width="0.8" fill="none"/>
<rect x="31.70" y="184.90" width="509.00" height="92.60" fill="none" stroke="#9a9a9a" stroke-width="1.2"/><path d="M65.63 184.90 v2.1 M65.63 277.50 v-2.1 M99.57 184.90 v2.1 M99.57 277.50 v-2.1 M133.50 184.90 v2.1 M133.50 277.50 v-2.1 M167.43 184.90 v2.1 M167.43 277.50 v-2.1 M201.37 184.90 v2.1 M201.37 277.50 v-2.1 M235.30 184.90 v2.1 M235.30 277.50 v-2.1 M269.23 184.90 v2.1 M269.23 277.50 v-2.1 M303.17 184.90 v2.1 M303.17 277.50 v-2.1 M337.10 184.90 v2.1 M337.10 277.50 v-2.1 M371.03 184.90 v2.1 M371.03 277.50 v-2.1 M404.97 184.90 v2.1 M404.97 277.50 v-2.1 M438.90 184.90 v2.1 M438.90 277.50 v-2.1 M472.83 184.90 v2.1 M472.83 277.50 v-2.1 M506.77 184.90 v2.1 M506.77 277.50 v-2.1 M31.70 193.32 h2.1 M540.70 193.32 h-2.1 M31.70 201.74 h2.1 M540.70 201.74 h-2.1 M31.70 210.15 h2.1 M540.70 210.15 h-2.1 M31.70 218.57 h2.1 M540.70 218.57 h-2.1 M31.70 226.99 h2.1 M540.70 226.99 h-2.1 M31.70 235.41 h2.1 M540.70 235.41 h-2.1 M31.70 243.83 h2.1 M540.70 243.83 h-2.1 M31.70 252.25 h2.1 M540.70 252.25 h-2.1 M31.70 260.66 h2.1 M540.70 260.66 h-2.1 M31.70 269.08 h2.1 M540.70 269.08 h-2.1 " stroke="#7a7a7a" stroke-width="0.8" fill="none"/>
<rect x="172.8" y="34.5" width="223.3" height="35.4" rx="5.5" fill="#fbfbfb" stroke="#9a9a9a" stroke-width="0.9"/>
<path d="M181.2 45.8 H219.8" stroke="#ff0000" stroke-width="2" stroke-dasharray="5.2 1.3 1.4 1.6 8.3 1.7 1.4 1.6 8.3 1.7 1.4 1.6 8.3" fill="none"/>
<path d="M182 60.5 H219.8" stroke="#ffdb1a" stroke-width="1.2" fill="none"/>
<rect x="351.2" y="39.9" width="35.9" height="11.1" fill="#f98282"/>
<rect x="351.2" y="54.6" width="35.9" height="11.1" fill="#fbeb82"/>
<ellipse cx="509.3" cy="40.6" rx="33.3" ry="32" fill="#000" fill-opacity="0.9" filter="url(#bl)"/>
<ellipse cx="507.9" cy="42" rx="32.8" ry="31.5" fill="#fff" stroke="#111" stroke-width="1.2"/>
<rect x="495" y="17.1" width="13" height="49.4" fill="#ea3434"/>
<rect x="508" y="17.1" width="12.8" height="49.4" fill="#d9d9d9"/>
<text font-family="'Liberation Serif', serif" font-size="9.2" font-weight="bold" fill="#fff" transform="translate(503.8 38.6) rotate(-90)">PLA</text>
<text font-family="'Liberation Serif', serif" font-size="9.4" font-weight="bold" fill="#d22" transform="translate(518.3 39.9) rotate(-90)">ABS</text>
<g font-family="'Liberation Serif', serif" fill="#111">
<text x="283.7" y="49.8" font-size="12" text-anchor="middle">Symmetric GWs</text>
<text x="283.9" y="64.5" font-size="12" text-anchor="middle">Antisymmetric GWs</text>
<text x="27.6" y="80.2" font-size="10" text-anchor="end">1100</text>
<text x="27.4" y="172.2" font-size="10" text-anchor="end">0</text>
<text x="27.4" y="188.9" font-size="10" text-anchor="end">0</text>
<text x="27.8" y="282" font-size="10" text-anchor="end">550</text>
<text x="29.9" y="287.1" font-size="10" text-anchor="middle">0</text>
<text x="201.5" y="287.1" font-size="10" text-anchor="middle">50</text>
<text x="371" y="287.1" font-size="10" text-anchor="middle">100</text>
<text x="539.3" y="287.1" font-size="10" text-anchor="middle">150</text>
<text x="32" y="75.8" font-size="12" font-weight="bold">a)</text>
<text x="32" y="181.9" font-size="12" font-weight="bold">b)</text>
<text x="413.3" y="301" font-size="13">Frequency <tspan font-style="italic">f</tspan>, kHz</text>
<text font-size="13" text-anchor="middle" transform="translate(12.3 125.9) rotate(-90)">Re <tspan font-style="italic">k</tspan>, rad/m</text>
<text font-size="13" text-anchor="middle" transform="translate(12.3 231.2) rotate(-90)">Im <tspan font-style="italic">k</tspan>, rad/m</text>
</g>
</svg>
</body></html>
